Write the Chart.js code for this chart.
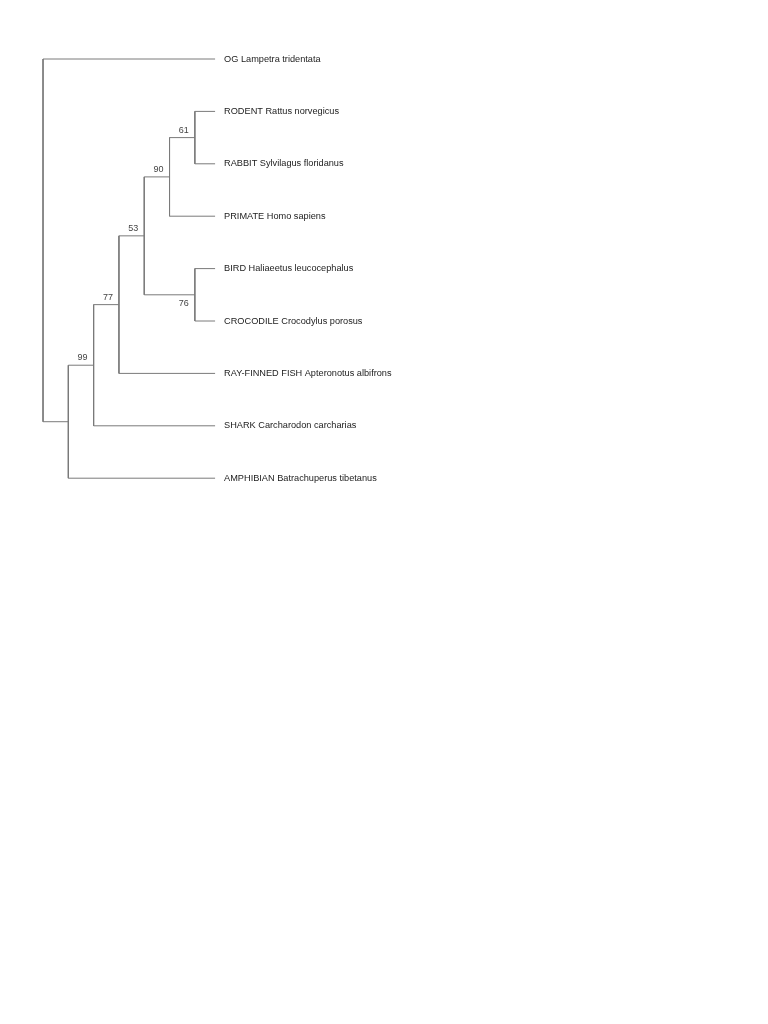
<!DOCTYPE html>
<html><head><meta charset="utf-8">
<script src="https://cdn.jsdelivr.net/npm/chart.js@4"></script>
<style>html,body{margin:0;padding:0;background:#fff}#w{width:768px;height:1024px}</style>
</head><body><div id="w"><canvas id="c"></canvas></div>
<script>
// Tips (top to bottom)
const tipNames = ["OG Lampetra tridentata","RODENT Rattus norvegicus","RABBIT Sylvilagus floridanus","PRIMATE Homo sapiens","BIRD Haliaeetus leucocephalus","CROCODILE Crocodylus porosus","RAY-FINNED FISH Apteronotus albifrons","SHARK Carcharodon carcharias","AMPHIBIAN Batrachuperus tibetanus"];
// Internal nodes: name, depth, children (tip indices as numbers, nodes as strings), bootstrap
const nodeNames   = ["root","B","C","D","E","F","G","H"];
const nodeDepth   = [0,1,2,3,4,5,6,6];
const nodeKids    = [[0,"B"],["C",8],["D",7],["E",6],["F","H"],["G",3],[1,2],[4,5]];
const nodeSupport = [null,null,99,77,53,90,61,76];
const tipDepth = 6.8;

const nodeY = {};
function yOf(k){ if(typeof k==="number") return k; const i=nodeNames.indexOf(k); if(nodeY[k]===undefined){ const ys=nodeKids[i].map(yOf); nodeY[k]=(Math.min(...ys)+Math.max(...ys))/2;} return nodeY[k]; }
function xOf(k){ return typeof k==="number"?tipDepth:nodeDepth[nodeNames.indexOf(k)]; }
yOf("root");

const datasets=[];
nodeNames.forEach((n,i)=>{
  const x=nodeDepth[i]; const ys=nodeKids[i].map(yOf);
  datasets.push({data:[{x:x,y:Math.min(...ys)},{x:x,y:Math.max(...ys)}]});
  nodeKids[i].forEach(k=>datasets.push({data:[{x:x,y:yOf(k)},{x:xOf(k),y:yOf(k)}]}));
});
datasets.forEach(d=>{d.borderColor="#7a7a7a";d.borderWidth=1;d.pointRadius=0;d.showLine=true;});

const labelPlugin={id:"lbl",afterDatasetsDraw(ch){
  const c=ch.ctx,xs=ch.scales.x,ys=ch.scales.y;
  c.save();c.font="9.2px 'Liberation Sans', Arial, sans-serif";c.fillStyle="#222";c.textBaseline="middle";c.textAlign="left";
  tipNames.forEach((t,i)=>c.fillText(t,xs.getPixelForValue(tipDepth)+9,ys.getPixelForValue(i)));
  c.font="9px 'Liberation Sans', Arial, sans-serif";c.fillStyle="#444";c.textAlign="right";
  nodeNames.forEach((n,i)=>{ if(nodeSupport[i]==null) return;
    const px=xs.getPixelForValue(nodeDepth[i])-6, py=ys.getPixelForValue(nodeY[n]);
    if(n==="H"){c.textBaseline="top";c.fillText(String(nodeSupport[i]),px,py+4);}
    else{c.textBaseline="bottom";c.fillText(String(nodeSupport[i]),px,py-3);}
  });
  c.restore();}};

new Chart(document.getElementById("c"),{type:"scatter",data:{datasets},plugins:[labelPlugin],
 options:{responsive:true,maintainAspectRatio:false,animation:false,layout:{padding:0},
  plugins:{legend:{display:false},tooltip:{enabled:false}},
  scales:{x:{type:"linear",min:-1.7,max:28.65,display:false},
          y:{type:"linear",min:-1.126,max:18.416,reverse:true,display:false}}}});
</script></body></html>
